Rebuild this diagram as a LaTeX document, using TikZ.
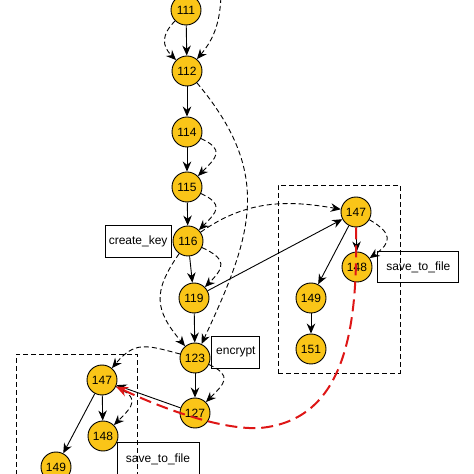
\documentclass[tikz,border=0pt]{standalone}
\usepackage{fontspec}
\setmainfont{Liberation Sans}
\usetikzlibrary{positioning, arrows.meta}
\definecolor{stategold}{RGB}{250,197,24}
\definecolor{pathred}{RGB}{222,22,22}

\begin{document}
\begin{tikzpicture}[
  x=1pt, y=1pt,
  every node/.style={font=\fontsize{12}{14}\selectfont},
  state/.style={circle, draw, line width=0.9pt, fill=stategold, minimum size=30pt, inner sep=0pt},
  fname/.style={rectangle, draw, line width=0.8pt, minimum height=32pt, inner sep=2pt, font=\fontsize{12}{14}\selectfont},
  groupbox/.style={rectangle, draw, line width=0.9pt, dash pattern=on 5pt off 3pt, inner sep=0pt},
  flow/.style={-{Stealth[length=10pt,width=8.5pt]}, line width=0.9pt},
  jump/.style={flow, dash pattern=on 5pt off 3pt},
  loopback/.style={out=-25, in=45, looseness=1.8},
  attack/.style={-{Stealth[length=12pt,width=10pt]}, line width=2pt, draw=pathred, dash pattern=on 12pt off 6pt}
]
  \useasboundingbox (0,0) rectangle (474,474);
  \clip (0,0) rectangle (474,474);

  % Groups for the two calls
  \node[groupbox, minimum width=122pt, minimum height=188pt] (grpR) at (339,195) {};
  \node[groupbox, minimum width=121pt, minimum height=130pt] (grpL) at (76.5,55) {};

  % Main chain
  \node[state] (n111) at (186,464) {111};
  \node[state] (n112) at (187,403) {112};
  \node[state] (n114) at (187,342) {114};
  \node[state] (n115) at (187,287) {115};
  \node[state] (n116) at (188,233) {116};
  \node[state] (n119) at (194,176) {119};
  \node[state] (n123) at (195,116) {123};
  \node[state] (n127) at (195,61) {127};
  \coordinate (topin) at (221,484);

  % Right call
  \node[state] (r147) at (356,262) {147};
  \node[state] (r148) at (357,207) {148};
  \node[state] (r149) at (311,176) {149};
  \node[state] (r151) at (311,125) {151};

  % Left call
  \node[state] (l147) at (102,94) {147};
  \node[state] (l148) at (103,38) {148};
  \node[state] (l149) at (56,7) {149};

  % Function names
  \node[fname, minimum width=66pt, left=1pt of n116] (fkey) {create\_key};
  \node[fname, minimum width=48pt, right=1pt of n123, yshift=6pt] (fenc) {encrypt};
  \node[fname, minimum width=81pt, minimum height=31pt, right=5pt of r148] (fsaveR) {save\_to\_file};
  \node[fname, minimum width=82pt, minimum height=33pt] (fsaveL) at (158,15) {save\_to\_file};

  % Solid edges
  \draw[flow] (n111) -- (n112);
  \draw[flow] (n112) -- (n114);
  \draw[flow] (n114) -- (n115);
  \draw[flow] (n115) -- (n116);
  \draw[flow] (n116) -- (n119);
  \draw[flow] (n119) -- (n123);
  \draw[flow] (n123) -- (n127);
  \draw[flow] (n119) -- (r147);
  \draw[flow] (n127) -- (l147);
  \draw[flow] (r147) -- (r148);
  \draw[flow] (r147) -- (r149);
  \draw[flow] (r149) -- (r151);
  \draw[flow] (l147) -- (l148);
  \draw[flow] (l147) -- (l149);

  % Dashed edges
  \draw[jump] (n111) to[out=225, in=135, looseness=1.3] (n112);
  \draw[jump] (topin) to[out=-90, in=50] (n112);
  \draw[jump] (n114) to[loopback] (n115);
  \draw[jump] (n115) to[loopback] (n116);
  \draw[jump] (n116) to[loopback] (n119);
  \draw[jump] (n123) to[loopback] (n127);
  \draw[jump] (l147) to[loopback] (l148);
  \draw[jump] (r147) to[out=-30, in=35, looseness=1.8] (r148);
  \draw[jump] (n112) to[out=-50, in=65, looseness=1.17] (n123);
  \draw[jump] (n116) to[out=-125, in=130, looseness=1.3] (n123);
  \draw[jump] (n116) to[out=35, in=170] (r147);
  \draw[jump] (n123) to[out=165, in=50, looseness=1.3] (l147);

  % Highlighted path
  \draw[attack] (r147.south) .. controls (358,144) and (345,54) .. (260,46)
    .. controls (225,44) and (170,62) .. (l147);

\end{tikzpicture}
\end{document}
